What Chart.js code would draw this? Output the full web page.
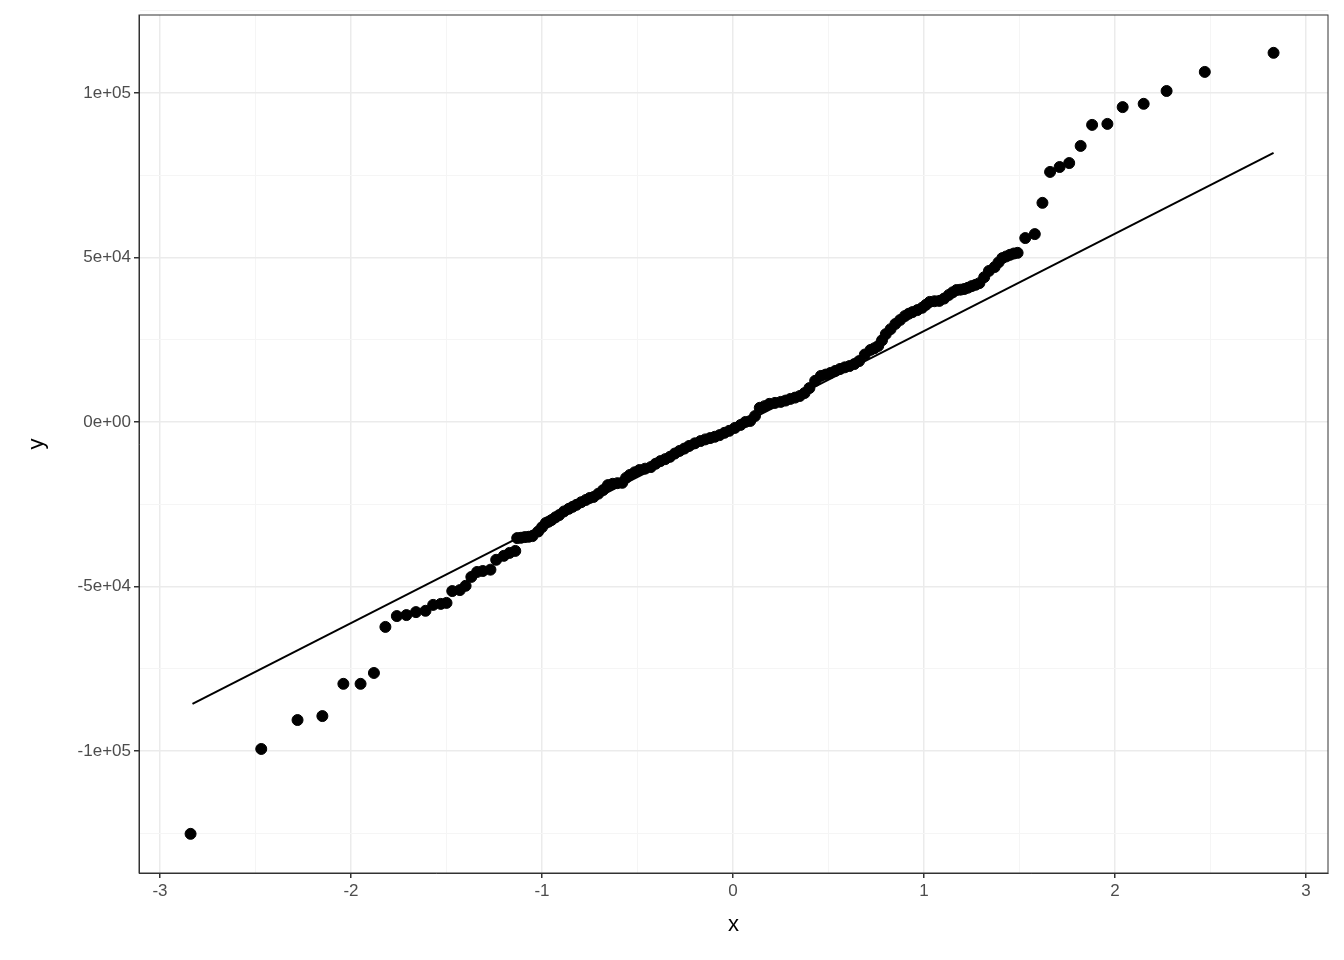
<!DOCTYPE html>
<html><head><meta charset="utf-8">
<script src="https://cdn.jsdelivr.net/npm/chart.js@4/dist/chart.umd.min.js"></script>
<style>html,body{margin:0;padding:0;background:#fff}#w{width:1344px;height:960px}</style>
</head><body><div id="w"><canvas id="c"></canvas></div>
<script>
const sampleX=[-2.84,-2.47,-2.28,-2.15,-2.04,-1.95,-1.88,-1.82,-1.76,-1.71,-1.66,-1.61,-1.57,-1.53,-1.50,-1.47,-1.43,-1.40,-1.37,-1.34,-1.31,-1.27,-1.24,-1.20,-1.17,-1.14,-1.13,-1.09,-1.05,-1.02,-0.98,-0.95,-0.91,-0.86,-0.82,-0.77,-0.73,-0.68,-0.63,-0.58,-0.54,-0.49,-0.43,-0.38,-0.33,-0.28,-0.23,-0.17,-0.12,-0.07,-0.02,0.04,0.09,0.14,0.19,0.25,0.30,0.35,0.40,0.46,0.51,0.56,0.61,0.66,0.72,0.76,0.80,0.85,0.90,0.94,0.99,1.03,1.08,1.13,1.17,1.21,1.25,1.29,1.34,1.37,1.41,1.45,1.49,1.53,1.58,1.62,1.66,1.71,1.76,1.82,1.88,1.96,2.04,2.15,2.27,2.47,2.83,
 -1.11,-1.07,-1.00,-0.965,-0.93,-0.885,-0.84,-0.795,-0.75,-0.705,-0.655,-0.605,-0.56,-0.515,-0.46,-0.405,-0.355,-0.305,-0.255,-0.20,-0.145,-0.095,-0.045,0.01,0.065,0.115,0.165,0.22,0.275,0.325,0.375,0.43,0.485,0.535,0.585,0.635,0.69,0.74,0.78,0.825,0.875,0.92,0.965,1.01,1.055,1.105,1.15,1.19,1.23,1.27,1.315,1.39,1.43,1.47];
const sampleY=[-125200,-99400,-90600,-89400,-79600,-79600,-76300,-62300,-59000,-58700,-57800,-57400,-55600,-55300,-55000,-51400,-51100,-49800,-47100,-45600,-45300,-44900,-41900,-40700,-39800,-39200,-35300,-35000,-34700,-33300,-30700,-29800,-28300,-26400,-25200,-23700,-22800,-20700,-18800,-18500,-16100,-14600,-13700,-11900,-10600,-8800,-7300,-5800,-4900,-4000,-2700,-900,300,4300,5500,6100,7000,7900,10300,14000,14900,16100,17000,18500,21900,23100,26700,29800,32200,33400,34700,36500,36800,38600,40100,40400,41300,42200,45900,47100,49800,50800,51400,55900,57100,66600,76000,77500,78700,83900,90300,90600,95700,96700,100600,106400,112200,
 -35200,-34900,-32000,-30300,-29000,-27200,-25800,-24400,-23100,-21800,-19200,-18600,-17000,-15300,-14200,-12700,-11300,-9600,-8100,-6500,-5300,-4500,-3300,-1800,0,1800,4800,5800,6500,7400,8800,12500,14400,15500,16600,17600,20500,22400,24800,28200,31000,32900,34000,35600,36700,37500,39400,40200,40800,41700,44000,48500,50300,51200];
const lineX=[-2.83,2.83];
const lineY=[-85700,81800];
const xTicks=[-3,-2,-1,0,1,2,3];
const yTicks=[-100000,-50000,0,50000,100000];
const yLabels={'-100000':'-1e+05','-50000':'-5e+04','0':'0e+00','50000':'5e+04','100000':'1e+05'};

const pts=sampleX.map((x,i)=>({x:x,y:sampleY[i]}));
const linePts=lineX.map((x,i)=>({x:x,y:lineY[i]}));
const isMajX=v=>xTicks.includes(Math.round(v*100)/100);
const isMajY=v=>yTicks.includes(Math.round(v));
new Chart(document.getElementById('c'),{
 type:'scatter',
 data:{datasets:[
  {data:pts,backgroundColor:'#000',borderColor:'#000',pointRadius:5.5,pointHoverRadius:5.5},
  {type:'line',data:linePts,borderColor:'#000',borderWidth:2,pointRadius:0,fill:false}
 ]},
 options:{responsive:true,maintainAspectRatio:false,animation:false,
  layout:{padding:{top:15,right:16,left:20,bottom:18}},
  plugins:{legend:{display:false},tooltip:{enabled:false}},
  scales:{
   x:{type:'linear',min:-3.11,max:3.115,
    afterBuildTicks:a=>{a.ticks=[];for(let v=-3;v<=3.001;v+=0.5)a.ticks.push({value:Math.round(v*10)/10});},
    afterFit:a=>{a.height=69;},
    border:{color:'#333',width:1},
    grid:{color:c=>isMajX(c.tick.value)?'#ebebeb':'#f5f5f5',lineWidth:c=>isMajX(c.tick.value)?1.5:1,
      tickColor:c=>isMajX(c.tick.value)?'#333':'rgba(0,0,0,0)',tickLength:5},
    ticks:{color:'#4d4d4d',font:{family:'Liberation Sans, Arial',size:17},padding:3,
      callback:v=>isMajX(v)?String(v):''},
    title:{display:true,text:'x',color:'#000',font:{family:'Liberation Sans, Arial',size:22},padding:{top:2}}
   },
   y:{type:'linear',min:-137100,max:123700,
    afterBuildTicks:a=>{a.ticks=[];for(let v=-125000;v<=125000;v+=25000)a.ticks.push({value:v});},
    afterFit:a=>{a.width=119;},
    border:{color:'#333',width:1},
    grid:{color:c=>isMajY(c.tick.value)?'#ebebeb':'#f5f5f5',lineWidth:c=>isMajY(c.tick.value)?1.5:1,
      tickColor:c=>isMajY(c.tick.value)?'#333':'rgba(0,0,0,0)',tickLength:5},
    ticks:{color:'#4d4d4d',font:{family:'Liberation Sans, Arial',size:17},padding:3,
      callback:v=>yLabels[String(v)]||''},
    title:{display:true,text:'y',color:'#000',font:{family:'Liberation Sans, Arial',size:22},padding:{bottom:2}}
   }
  }
 },
 plugins:[{id:'box',afterDraw(ch){const a=ch.chartArea,g=ch.ctx;g.save();g.strokeStyle='#333';g.lineWidth=1;g.strokeRect(a.left,a.top,a.right-a.left,a.bottom-a.top);g.restore();}}]
});
</script></body></html>
